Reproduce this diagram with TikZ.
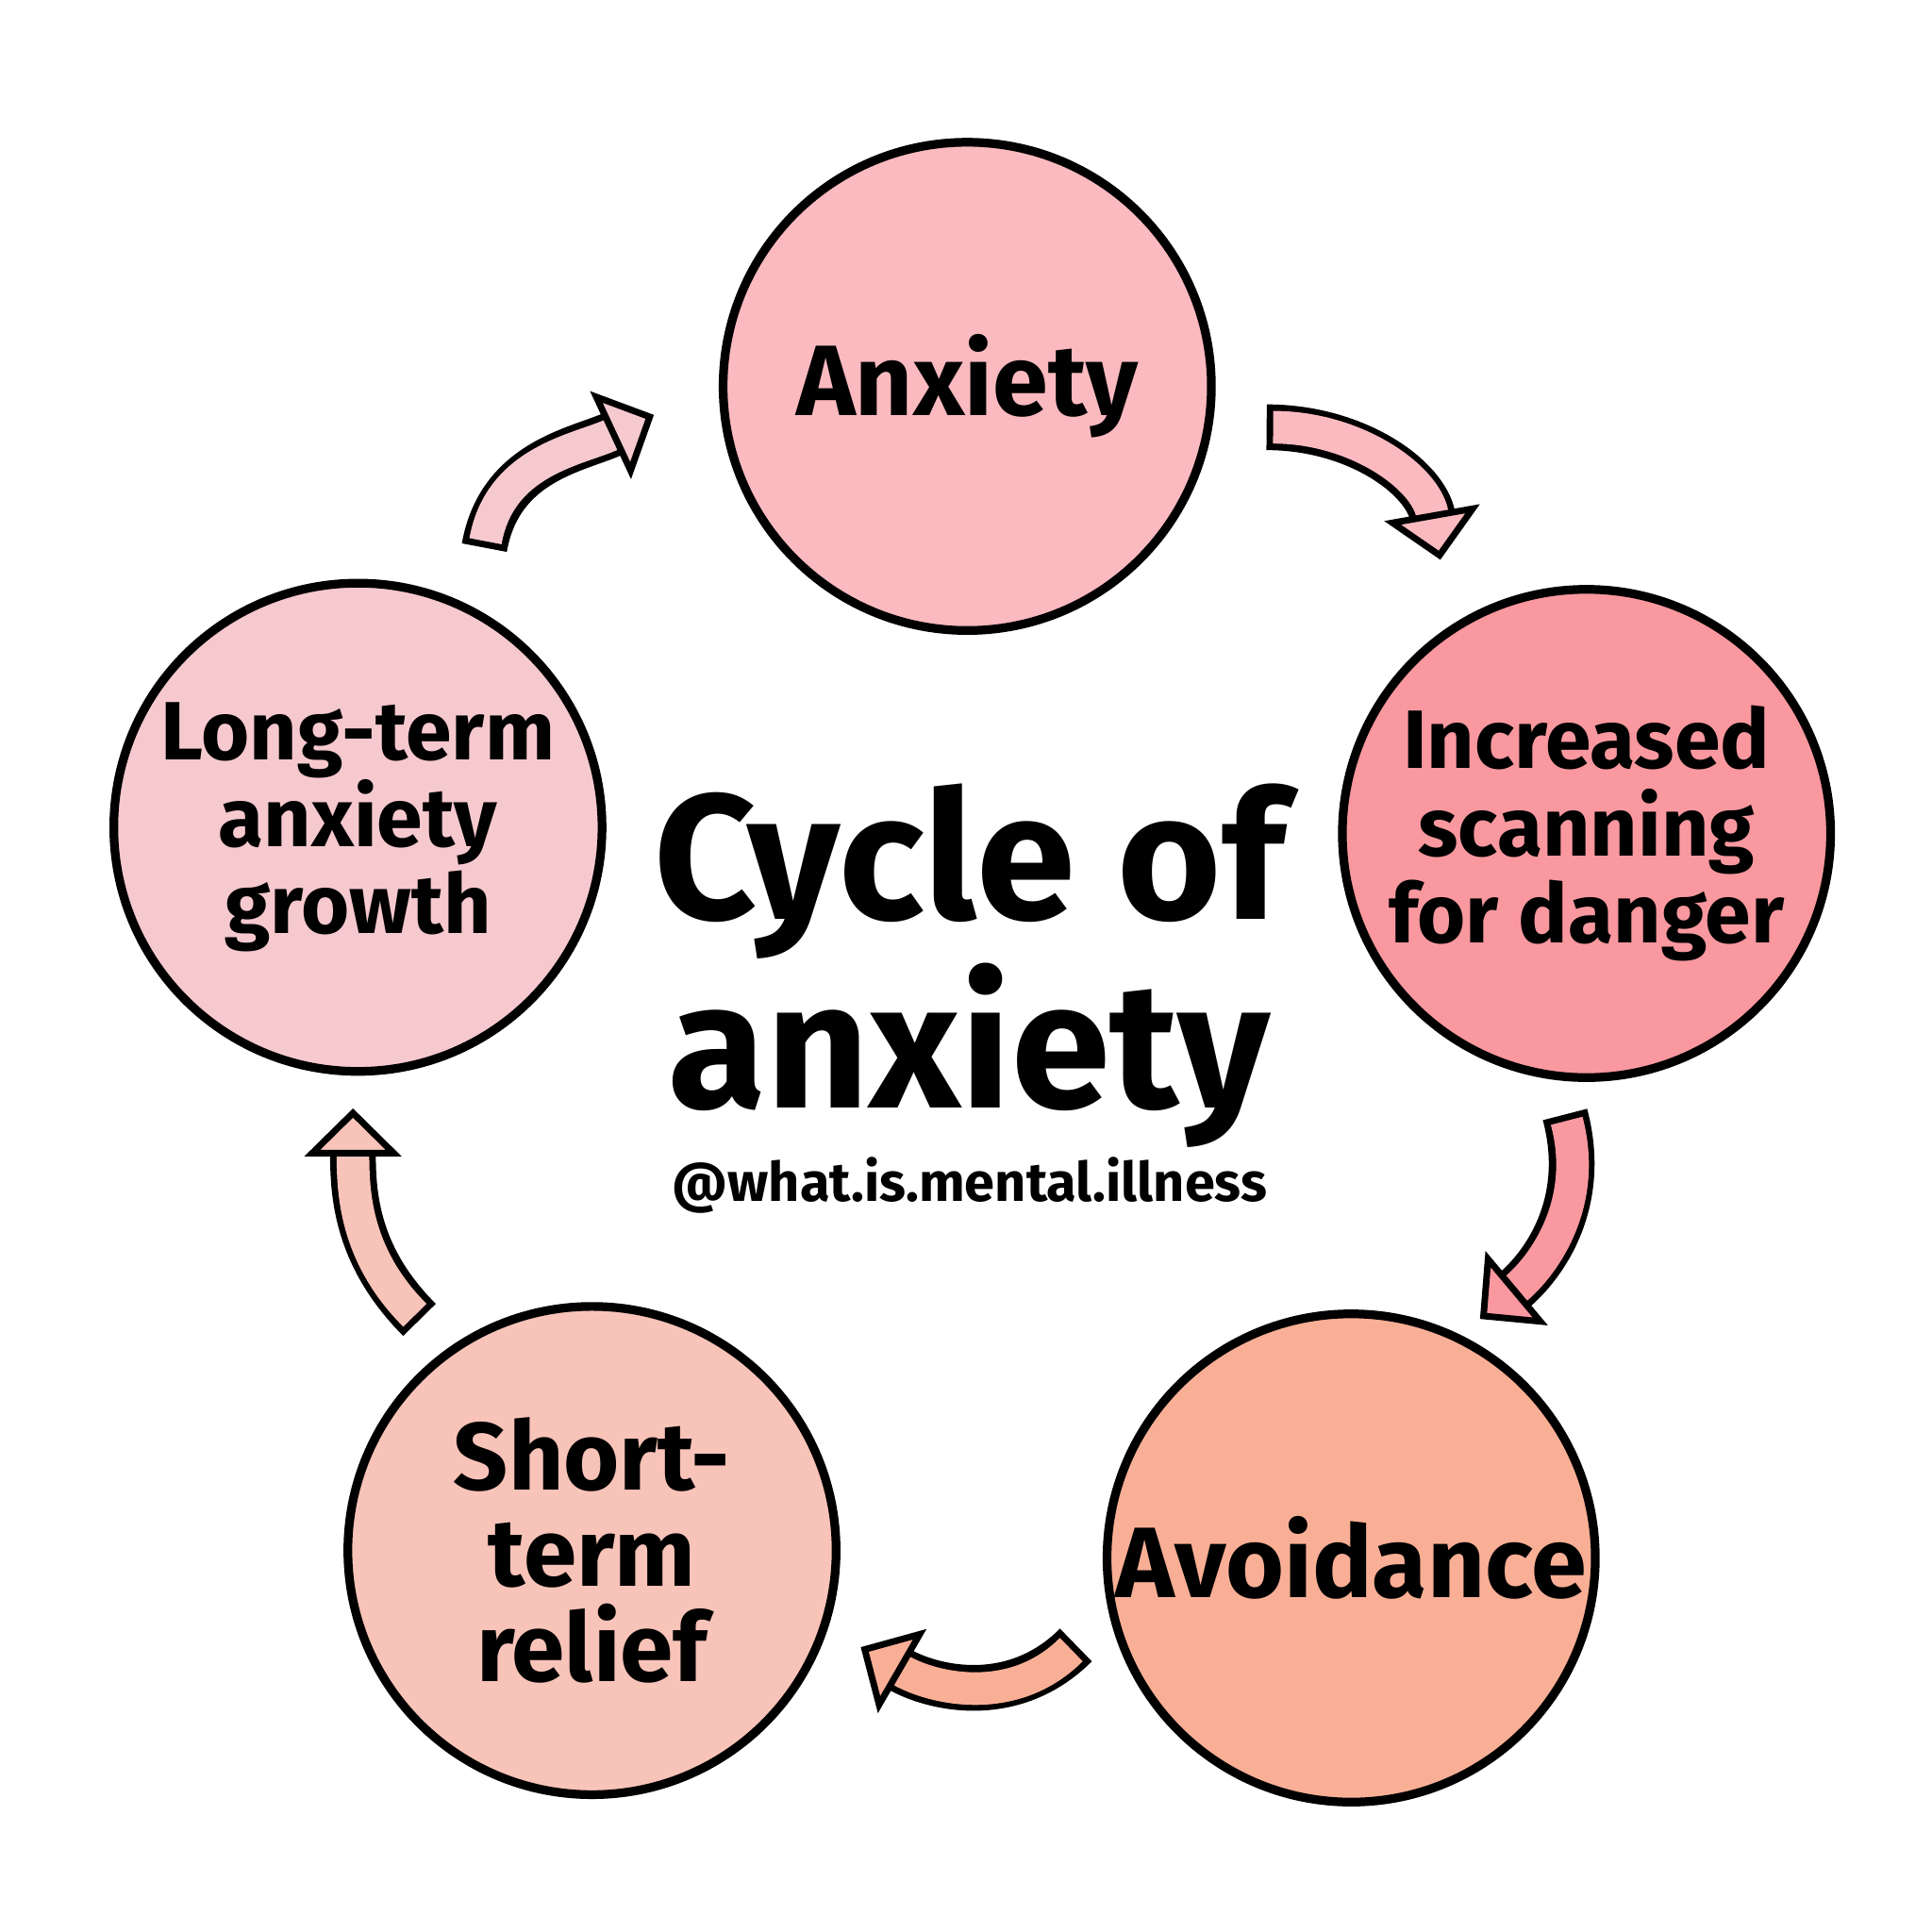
\documentclass[tikz,border=0pt]{standalone}
\usepackage{fontspec}
\setmainfont{Fira Sans}
\usetikzlibrary{arrows.meta}
\definecolor{cA}{HTML}{FBBAC0}
\definecolor{cB}{HTML}{F9989F}
\definecolor{cC}{HTML}{F9AF96}
\definecolor{cD}{HTML}{F8C3B8}
\definecolor{cE}{HTML}{F6C9CE}
\tikzset{
 x=0.01cm,y=0.01cm,
 circ/.style={circle,draw=black,line width=2pt,minimum size=3.94cm,inner sep=0pt,align=center,font=\fontsize{19}{20}\selectfont\bfseries},
 shaftout/.style={line width=10.5pt,black,shorten >=10pt,shorten <=-1.5pt},
 shaftin/.style={line width=7.5pt,draw=#1,-{Triangle[length=11pt,width=22pt,line width=1.5pt,color=black,fill=#1]}},
}
\newcommand{\blockarrow}[2]{%
 \draw[shaftout] #2;
 \draw[shaftin=#1] #2;}
\begin{document}
\begin{tikzpicture}
\useasboundingbox[fill=white] (0,0) rectangle (1560,1560);
\node[circ,fill=cA,font=\fontsize{23}{24}\selectfont\bfseries] (anx) at (781,1248) {Anxiety};
\node[circ,fill=cB] (inc) at (1281,887) {Increased\\scanning\\for danger};
\node[circ,fill=cC,font=\fontsize{23}{24}\selectfont\bfseries] (avo) at (1091,302) {Avoidance};
\node[circ,fill=cD,font=\fontsize{22}{22}\selectfont\bfseries] (sho) at (478,308) {Short-\\term\\relief};
\node[circ,fill=cE] (lon) at (289,892) {Long-term\\anxiety\\growth};
\coordinate (a1s) at (1028,1215); \coordinate (a1e) at (1163,1108);
\coordinate (a2s) at (1265,655); \coordinate (a2e) at (1195,495);
\coordinate (a3s) at (865,228); \coordinate (a3e) at (695,230);
\coordinate (a4s) at (335,498); \coordinate (a4e) at (285,665);
\coordinate (a5s) at (392,1123); \coordinate (a5e) at (528,1225);
\blockarrow{cA}{(a1s) to[out=0,in=100] (a1e)}
\blockarrow{cB}{(a2s) to[out=-75,in=40] (a2e)}
\blockarrow{cC}{(a3s) to[out=-135,in=-30] (a3e)}
\blockarrow{cD}{(a4s) to[out=135,in=-90] (a4e)}
\blockarrow{cE}{(a5s) to[out=80,in=205] (a5e)}
\node[font=\fontsize{41}{35}\selectfont\bfseries,align=center] (title) at (783,780) {Cycle of\\anxiety};
\node[font=\fontsize{12.5}{14}\selectfont\bfseries] (handle) at (783,603) {@what.is.mental.illness};
\end{tikzpicture}
\end{document}
